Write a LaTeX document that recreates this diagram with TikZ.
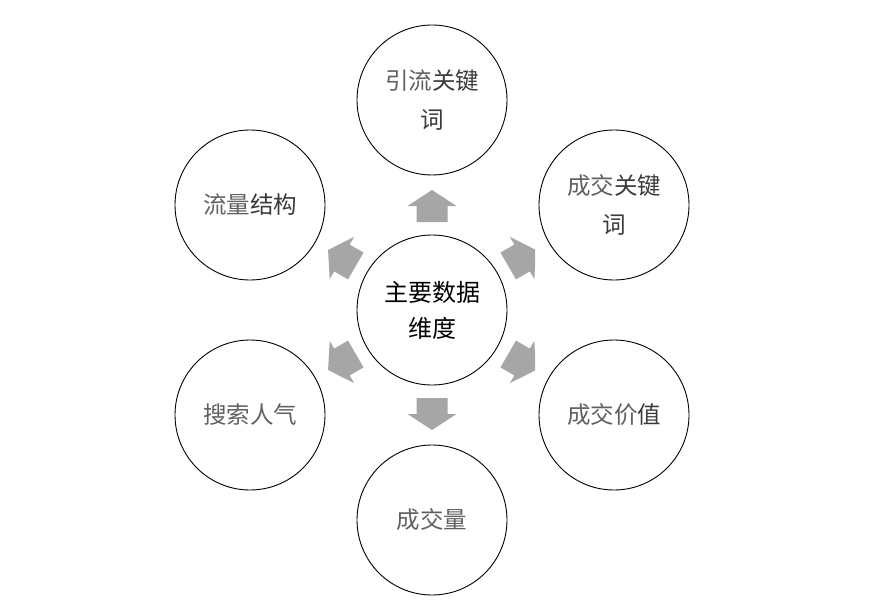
\documentclass[tikz,border=0pt]{standalone}
\usepackage{fontspec}
\setmainfont{Noto Sans CJK SC}
\definecolor{txtlight}{HTML}{606060}
\definecolor{txtdark}{HTML}{3A3A3A}
\definecolor{arrowgray}{HTML}{A6A6A6}
\tikzset{
  bubble/.style={circle, draw=black, line width=0.9pt, minimum size=150pt, inner sep=0pt, align=center,
    font=\fontsize{23.5}{39}\selectfont, text=txtlight},
  hub/.style={bubble, text=black, font=\fontsize{24}{36}\selectfont},
  blockarrow/.style={fill=arrowgray, draw=none}
}
\newcommand{\dk}[1]{\textcolor{txtdark}{#1}}
\begin{document}
\begin{tikzpicture}[x=1pt,y=-1pt]
\useasboundingbox (0,0) rectangle (894,615);
\node[hub] (c) at (432,310) {主要数据\\维度};
\node[bubble] (t) at (432,100) {引流\dk{关键}\\\dk{词}};
\node[bubble] (ur) at (614,205) {成交\dk{关键}\\\dk{词}};
\node[bubble] (lr) at (614,415) {成交价\dk{值}};
\node[bubble] (b) at (432,520) {成交量};
\node[bubble] (ll) at (250,415) {搜索人气};
\node[bubble] (ul) at (250,205) {流量\dk{结构}};
\begin{scope}
\clip (328,0) rectangle (535,615);
\foreach \a in {90,30,-30,-90,-150,150}{
  \begin{scope}[shift={(c.center)}, rotate=\a]
    \fill[blockarrow] (88,-15.5) -- (104,-15.5) -- (104,-24.5) -- (120,0) -- (104,24.5) -- (104,15.5) -- (88,15.5) -- cycle;
  \end{scope}
}
\end{scope}
\end{tikzpicture}
\end{document}
